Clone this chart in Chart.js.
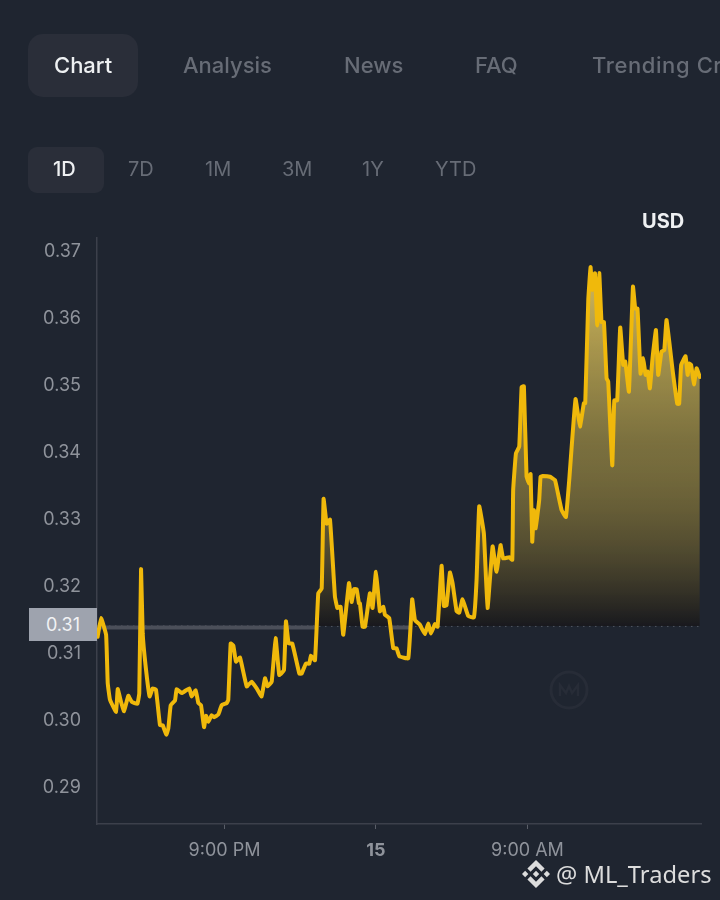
<!DOCTYPE html>
<html><head><meta charset="utf-8">
<script src="https://cdn.jsdelivr.net/npm/chart.js@4"></script>
<style>
html,body{margin:0;padding:0;background:#1f2530;width:720px;height:900px;overflow:hidden;font-family:Inter,sans-serif}
#wrap{position:relative;width:720px;height:900px;overflow:hidden}
canvas{position:absolute;left:0;top:0}
.t{position:absolute;white-space:nowrap;color:#676c76;line-height:1}
.pill{position:absolute;background:#2a2e39}
#badge{position:absolute;left:29px;top:608px;width:68px;height:33px;background:#9ea3ae;color:#f1f2f4;font-size:18px;line-height:34px;text-align:center}
</style></head><body><div id="wrap">
<div class="pill" style="left:28px;top:34px;width:110px;height:63px;border-radius:15px"></div>
<div class="pill" style="left:28px;top:147px;width:76px;height:46px;border-radius:9px"></div>
<canvas id="c" width="720" height="900"></canvas>
<div class="t" style="left:54px;top:54px;font-size:22px;font-weight:500;color:#eef0f2">Chart</div>
<div class="t" style="left:183px;top:54px;font-size:22px;font-weight:500">Analysis</div>
<div class="t" style="left:344px;top:54px;font-size:22px;font-weight:500">News</div>
<div class="t" style="left:475px;top:54px;font-size:22px;font-weight:500">FAQ</div>
<div class="t" style="left:592px;top:54px;font-size:22px;font-weight:500;letter-spacing:0.6px">Trending Crypto</div>
<div class="t" style="left:53px;top:159px;font-size:20px;font-weight:500;color:#eef0f2">1D</div>
<div class="t" style="left:128px;top:159px;font-size:20px">7D</div>
<div class="t" style="left:205px;top:159px;font-size:20px">1M</div>
<div class="t" style="left:282px;top:159px;font-size:20px">3M</div>
<div class="t" style="left:362px;top:159px;font-size:20px">1Y</div>
<div class="t" style="left:435px;top:159px;font-size:20px">YTD</div>
<div class="t" style="left:642px;top:211px;font-size:20px;font-weight:700;color:#eef0f2">USD</div>
<div id="badge">0.31</div>
<svg style="position:absolute;left:548px;top:669px" width="42" height="42" viewBox="0 0 42 42" fill="none" stroke="#272c37" stroke-width="3"><circle cx="21" cy="21" r="18"/><path d="M12 27V16l6 8 3-7 3 7 6-8v11" stroke-width="2.4"/></svg>
<svg style="position:absolute;left:522px;top:860px" width="28" height="28" viewBox="0 0 126.61 126.61" fill="#dcdcdc"><path d="M38.73 53.2l24.59-24.58 24.6 24.6 14.3-14.31L63.32 0 24.43 38.9zM0 63.31l14.3-14.31 14.31 14.31-14.31 14.3zM38.73 73.41L63.32 98l24.6-24.6 14.31 14.29-38.9 38.91-38.9-38.88zM98 63.31l14.3-14.31 14.31 14.31-14.3 14.3zM77.83 63.3L63.32 48.78 52.59 59.51l-1.24 1.23-2.54 2.54 14.51 14.5 14.51-14.47z"/></svg>
<div class="t" style="left:556px;top:860px;font-family:'Noto Sans';font-size:23.7px;color:#dcdcdc;line-height:28px">@ ML_Traders</div>
</div>
<script>
const times=[-22.05,-21.78,-21.38,-21.25,-21.07,-20.59,-20.46,-20.20,-19.96,-19.62,-19.35,-18.90,-18.75,-18.61,-18.48,-18.24,-17.93,-17.69,-17.43,-17.11,-16.90,-16.61,-16.45,-16.26,-15.92,-15.79,-15.39,-14.79,-14.60,-14.28,-14.07,-13.86,-13.62,-13.46,-13.28,-13.02,-12.83,-12.49,-12.22,-11.83,-11.70,-11.51,-11.30,-11.09,-10.77,-10.24,-9.85,-9.45,-9.06,-8.79,-8.58,-8.26,-7.95,-7.66,-7.29,-7.13,-6.92,-6.63,-6.07,-5.89,-5.55,-5.28,-5.15,-4.83,-4.57,-4.30,-4.15,-3.91,-3.64,-3.25,-3.06,-2.80,-2.59,-2.14,-1.93,-1.74,-1.53,-1.35,-1.27,-1.06,-0.87,-0.48,-0.27,0,0.31,0.58,0.71,1.05,1.37,1.63,1.85,2.56,2.87,3.09,3.48,3.88,4.14,4.35,4.67,4.88,5.20,5.38,5.59,5.86,6.07,6.39,6.60,6.86,7.31,7.76,7.97,8.18,8.55,8.84,9.24,9.55,9.87,10.08,10.56,10.80,10.87,11.09,11.35,11.54,11.72,11.93,12.14,12.25,12.38,12.51,12.65,12.93,13.04,13.20,13.78,14.18,14.33,14.71,15.05,15.31,15.81,16.16,16.47,16.58,16.82,17.0,17.13,17.35,17.53,17.69,17.87,18.06,18.27,18.40,18.72,18.88,19.11,19.35,19.59,19.75,20.04,20.36,20.54,20.72,20.96,21.17,21.36,21.52,21.70,21.91,22.18,22.36,22.62,22.84,23.02,23.50,23.87,24.02,24.18,24.53,24.69,24.82,24.97,25.19,25.40,25.66];
const prices=[.3122,.3150,.3125,.3053,.3028,.3010,.3044,.3025,.3011,.3034,.3025,.3022,.3038,.3223,.3127,.3077,.3033,.3045,.3043,.2990,.2990,.2976,.2985,.3020,.3027,.3044,.3038,.3045,.3033,.3042,.3023,.3020,.2987,.3004,.2995,.3005,.3002,.3006,.3020,.3023,.3028,.3112,.3109,.3085,.3091,.3048,.3055,.3045,.3033,.3060,.3048,.3055,.3120,.3065,.3072,.3145,.3112,.3112,.3067,.3067,.3082,.3082,.3094,.3087,.3187,.3194,.3328,.3291,.3297,.3182,.3165,.3167,.3125,.3202,.3174,.3193,.3193,.3172,.3172,.3137,.3137,.3187,.3165,.3219,.3160,.3167,.3155,.3150,.3105,.3105,.3093,.3090,.3178,.3147,.3140,.3126,.3142,.3127,.3141,.3137,.3228,.3168,.3169,.3218,.3202,.3160,.3158,.3178,.3153,.3151,.3207,.3317,.3276,.3165,.3257,.3219,.3259,.3239,.3241,.3237,.3341,.3396,.3406,.3495,.3496,.3361,.3351,.3365,.3264,.3311,.3284,.3326,.3361,.3362,.3361,.3356,.3344,.3311,.3301,.3356,.3477,.3436,.3471,.3471,.3625,.3674,.3640,.3665,.3587,.3665,.3592,.3592,.3508,.3503,.3378,.3475,.3475,.3584,.3528,.3533,.3488,.3645,.3612,.3612,.3515,.3538,.3513,.3518,.3493,.3538,.3580,.3513,.3548,.3550,.3595,.3520,.3470,.3470,.3528,.3541,.3513,.3530,.3528,.3499,.3523,.3510];
const baselineValue=0.3138;
const underlayValue=0.3136;
const xTickValues=[-12,0,12];
const xTickLabels=['9:00 PM','15','9:00 AM'];
const yTickValues=[0.29,0.30,0.31,0.32,0.33,0.34,0.35,0.36,0.37];
const underlayStarts=[-22.1,1.1];
const underlayEnds=[-4.75,2.7];
const xMin=-22.1,xMax=25.75,yMin=0.28425,yMax=0.37175;

const cv=document.getElementById('c');
const ctx=cv.getContext('2d');
const grad=ctx.createLinearGradient(0,262,0,626);
grad.addColorStop(0,'rgba(240,210,100,0.88)');
grad.addColorStop(0.5,'rgba(200,175,75,0.54)');
grad.addColorStop(1,'rgba(24,24,28,0.90)');

const pts=times.map((t,i)=>({x:t,y:prices[i]}));
const base=[{x:xMin,y:baselineValue},{x:xMax,y:baselineValue}];
const under=[];
underlayStarts.forEach((s,i)=>{under.push({x:s,y:underlayValue},{x:underlayEnds[i],y:underlayValue},{x:underlayEnds[i]+0.01,y:null});});

new Chart(cv,{type:'line',
 data:{datasets:[
  {data:base,borderColor:'#6d717b',borderWidth:1,borderDash:[1.5,4.5],pointRadius:0,fill:false,order:3},
  {data:under,borderColor:'#4b4f59',borderWidth:4,pointRadius:0,fill:false,spanGaps:false,order:2},
  {data:pts,borderColor:'#f0b90b',borderWidth:4,pointRadius:0,tension:0.1,borderJoinStyle:'round',borderCapStyle:'round',order:1,
   fill:{target:{value:baselineValue},above:grad,below:'rgba(0,0,0,0)'}}
 ]},
 options:{responsive:false,animation:false,devicePixelRatio:1,
  layout:{padding:{left:0,right:19,top:238,bottom:0}},
  plugins:{legend:{display:false},tooltip:{enabled:false}},
  scales:{
   x:{type:'linear',min:xMin,max:xMax,
    afterBuildTicks:s=>{s.ticks=xTickValues.map(v=>({value:v}));},
    afterFit:s=>{s.height=76;},
    border:{color:'#3c404b',width:1.5},
    grid:{drawOnChartArea:false,drawTicks:true,tickLength:5,color:'#5a5e68'},
    ticks:{autoSkip:false,maxRotation:0,padding:11,color:'#8f939b',
     font:c=>({family:'Inter',size:18,weight:c.index===1?'700':'400'}),
     callback:(v,i)=>xTickLabels[i]}},
   y:{type:'linear',min:yMin,max:yMax,
    afterBuildTicks:s=>{s.ticks=yTickValues.map(v=>({value:v}));},
    afterFit:s=>{s.width=97;},
    border:{color:'#3c404b',width:1.5},
    grid:{drawOnChartArea:false,drawTicks:false},
    ticks:{autoSkip:false,padding:16,labelOffset:2,color:'#8f939b',font:{family:'Inter',size:18},
     callback:v=>v.toFixed(2)}}
  }}
});
</script></body></html>
